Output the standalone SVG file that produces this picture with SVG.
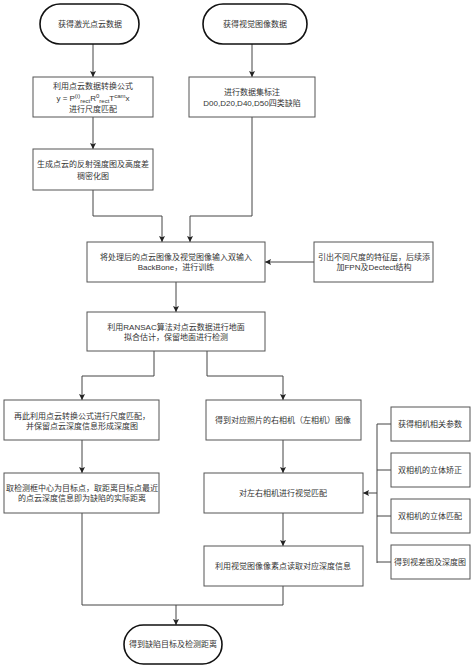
<svg xmlns="http://www.w3.org/2000/svg" width="474" height="669" viewBox="0 0 474 669">
<defs>
<marker id="ah" viewBox="0 0 10 10" refX="10" refY="5" markerWidth="6" markerHeight="6" orient="auto" markerUnits="userSpaceOnUse">
<path d="M0,0 L10,5 L0,10 L2,5 Z" fill="#222"/>
</marker>
<style>
.box{fill:#fff;stroke:#555;stroke-width:1}
.term{fill:#fff;stroke:#111;stroke-width:1.6}
.t{font-family:"Liberation Sans","Noto Sans CJK SC",sans-serif;font-size:8px;fill:#333;text-anchor:middle}
.c{fill:none;stroke:#444;stroke-width:1}
.a{fill:none;stroke:#444;stroke-width:1;marker-end:url(#ah)}
</style>
</defs>
<rect width="474" height="669" fill="#fff"/>
<g id="connectors">
<path class="a" d="M93,44 V77"/>
<path class="a" d="M252,44 V77"/>
<path class="a" d="M93,117 V149"/>
<path class="a" d="M93,190 V216 H162 V242"/>
<path class="a" d="M252,117 V216 H190 V242"/>
<path class="a" d="M314,262 H265"/>
<path class="a" d="M176,282 V312"/>
<path class="a" d="M154,351 V376 H82 V400"/>
<path class="a" d="M207,351 V376 H283 V400"/>
<path class="a" d="M82,440 V473"/>
<path class="a" d="M283,440 V473"/>
<path class="c" d="M377,424 V563"/>
<path class="c" d="M377,424 H391 M377,470 H391 M377,516 H391 M377,562 H391"/>
<path class="a" d="M377,493 H363"/>
<path class="a" d="M283,513 V546"/>
<path class="c" d="M82,513 V605 H283 V586"/>
<path class="a" d="M176,605 V625"/>
</g>
<g id="n1"><rect class="term" x="40" y="4" width="99" height="40" rx="20"/><text class="t" x="90" y="27">获得激光点云数据</text></g>
<g id="n2"><rect class="term" x="203" y="4" width="104" height="40" rx="20"/><text class="t" x="255" y="27">获得视觉图像数据</text></g>
<g id="n3"><rect class="box" x="33" y="77" width="120" height="40"/>
<text class="t" x="93" y="89">利用点云数据转换公式</text>
<text class="t" x="93" y="101">y = P<tspan font-size="6" dy="-3">(i)</tspan><tspan font-size="6" dy="5">rect</tspan><tspan dy="-2">R</tspan><tspan font-size="6" dy="-3">0</tspan><tspan font-size="6" dy="5">rect</tspan><tspan dy="-2">T</tspan><tspan font-size="6" dy="-3">cam</tspan><tspan dy="3">x</tspan></text>
<text class="t" x="93" y="112">进行尺度匹配</text></g>
<g id="n4"><rect class="box" x="189" y="77" width="126" height="40"/><text class="t" x="252" y="95">进行数据集标注</text><text class="t" x="252" y="106">D00,D20,D40,D50四类缺陷</text></g>
<g id="n5"><rect class="box" x="33" y="149" width="120" height="41"/><text class="t" x="93" y="167">生成点云的反射强度图及高度差</text><text class="t" x="93" y="179">稠密化图</text></g>
<g id="n6"><rect class="box" x="87" y="242" width="178" height="40"/><text class="t" x="176" y="260">将处理后的点云图像及视觉图像输入双输入</text><text class="t" x="176" y="270">BackBone，进行训练</text></g>
<g id="n7"><rect class="box" x="314" y="242" width="119" height="40"/><text class="t" x="374" y="260">引出不同尺度的特征层，后续添</text><text class="t" x="374" y="270">加FPN及Dectect结构</text></g>
<g id="n8"><rect class="box" x="87" y="312" width="178" height="39"/><text class="t" x="176" y="330">利用RANSAC算法对点云数据进行地面</text><text class="t" x="176" y="340">拟合估计，保留地面进行检测</text></g>
<g id="n9"><rect class="box" x="4" y="400" width="155" height="40"/><text class="t" x="82" y="419">再此利用点云转换公式进行尺度匹配，</text><text class="t" x="82" y="429">并保留点云深度信息形成深度图</text></g>
<g id="n10"><rect class="box" x="4" y="473" width="155" height="40"/><text class="t" x="82" y="491">取检测框中心为目标点，取距离目标点最近</text><text class="t" x="82" y="501">的点云深度信息即为缺陷的实际距离</text></g>
<g id="n11"><rect class="box" x="206" y="400" width="155" height="40"/><text class="t" x="283" y="423">得到对应照片的右相机（左相机）图像</text></g>
<g id="n12"><rect class="box" x="204" y="473" width="159" height="40"/><text class="t" x="283" y="496">对左右相机进行视觉匹配</text></g>
<g id="n13"><rect class="box" x="391" y="407" width="79" height="34"/><text class="t" x="430" y="427">获得相机相关参数</text></g>
<g id="n14"><rect class="box" x="391" y="453" width="79" height="34"/><text class="t" x="430" y="473">双相机的立体矫正</text></g>
<g id="n15"><rect class="box" x="391" y="499" width="79" height="34"/><text class="t" x="430" y="519">双相机的立体匹配</text></g>
<g id="n16"><rect class="box" x="391" y="545" width="79" height="34"/><text class="t" x="430" y="565">得到视差图及深度图</text></g>
<g id="n17"><rect class="box" x="204" y="546" width="159" height="40"/><text class="t" x="283" y="569">利用视觉图像像素点读取对应深度信息</text></g>
<g id="n18"><rect class="term" x="124" y="625" width="98" height="39" rx="19.5"/><text class="t" x="173" y="647">得到缺陷目标及检测距离</text></g>
</svg>
